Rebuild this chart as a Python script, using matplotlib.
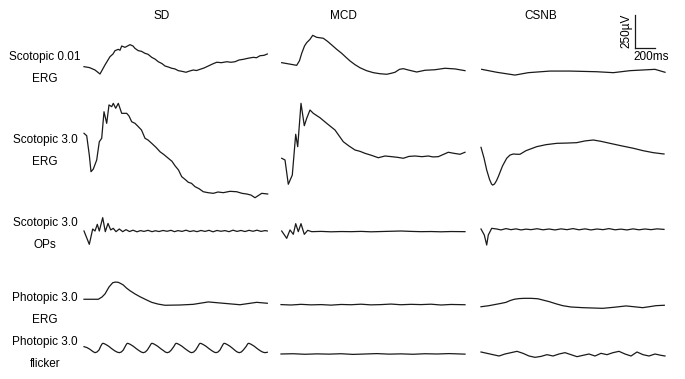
import matplotlib
matplotlib.use("Agg")
import matplotlib.pyplot as plt

# ---------------- data: (time ms, amplitude µV) ----------------
COLUMNS = ["SD", "MCD", "CSNB"]
ROW_LABELS = ["Scotopic 0.01\nERG", "Scotopic 3.0\nERG", "Scotopic 3.0\nOPs",
              "Photopic 3.0\nERG", "Photopic 3.0\nflicker"]
SCALE_UV = 250
SCALE_MS = 200

SD_SCOT001 = [(0, -5), (55, -12), (110, -30), (160, -60), (210, 8), (260, 70), (290, 90), (310, 115),
              (343, 125), (360, 118), (377, 150), (410, 140), (430, 148), (460, 160), (490, 150),
              (510, 132), (543, 115), (575, 110), (610, 95), (640, 88), (677, 65), (710, 52), (743, 32),
              (780, 18), (810, 0), (845, -8), (877, -17), (910, -22), (943, -35), (980, -40), (1020, -47),
              (1055, -38), (1093, -30), (1125, -34), (1160, -25), (1200, -15), (1243, 0), (1285, 15),
              (1327, 28), (1375, 25), (1427, 32), (1470, 28), (1510, 32), (1550, 45), (1593, 50),
              (1640, 58), (1693, 65), (1725, 62), (1760, 77), (1800, 80), (1833, 90)]
MCD_SCOT001 = [(7, 25), (157, 5), (185, 40), (207, 95), (235, 150), (257, 175), (290, 200), (317, 230),
               (357, 215), (423, 208), (465, 185), (507, 158), (557, 125), (607, 95), (650, 65), (690, 38),
               (740, 10), (790, -13), (855, -35), (923, -50), (990, -58), (1057, -62), (1100, -55),
               (1140, -47), (1185, -25), (1223, -20), (1273, -30), (1357, -45), (1440, -32), (1540, -28),
               (1640, -17), (1740, -22), (1840, -35)]
CSNB_SCOT001 = [(7, -25), (157, -47), (340, -68), (473, -50), (690, -38), (890, -38), (1157, -43),
                (1323, -50), (1490, -35), (1740, -25), (1840, -47)]

SD_SCOT30 = [(0, 125), (27, 107), (53, -38), (70, -163), (93, -143), (127, -75), (153, 62), (177, 88),
             (200, 287), (227, 200), (250, 338), (277, 325), (293, 350), (317, 313), (343, 350),
             (377, 275), (427, 275), (450, 255), (477, 212), (510, 200), (543, 175), (575, 150),
             (610, 88), (640, 75), (677, 50), (720, 20), (760, -13), (800, -35), (843, -62), (880, -85),
             (910, -118), (945, -150), (977, -200), (1010, -220), (1043, -242), (1075, -250), (1110, -275),
             (1150, -290), (1193, -313), (1240, -320), (1293, -325), (1340, -315), (1393, -320),
             (1460, -310), (1527, -313), (1580, -325), (1627, -330), (1670, -338), (1710, -358),
             (1777, -325), (1837, -330)]
MCD_SCOT30 = [(7, -62), (40, -75), (73, -257), (113, -188), (147, 118), (167, 25), (200, 350), (233, 182),
              (257, 238), (290, 300), (323, 275), (390, 242), (457, 200), (540, 150), (623, 62), (680, 30),
              (740, 0), (790, -10), (840, -25), (905, -40), (973, -58), (1040, -45), (1107, -50),
              (1165, -55), (1223, -62), (1280, -48), (1340, -45), (1410, -50), (1473, -45), (1520, -52),
              (1573, -50), (1673, -17), (1730, -25), (1790, -32), (1840, -17)]
CSNB_SCOT30 = [(0, 20), (30, -60), (57, -150), (85, -220), (105, -255), (117, -263), (135, -255),
               (155, -230), (173, -200), (215, -120), (257, -62), (290, -38), (323, -30), (360, -32),
               (390, -32), (450, -5), (557, 25), (650, 40), (757, 50), (857, 52), (957, 55), (1040, 68),
               (1123, 75), (1200, 65), (1290, 50), (1400, 32), (1523, 13), (1620, -5), (1723, -20),
               (1830, -30)]

SD_OPS = [(0, 0), (53, -100), (87, 15), (110, 0), (133, 50), (153, 0), (187, 100), (213, -5), (240, 57),
          (267, 8), (293, 20), (320, -5), (353, 15), (387, -5), (420, 10), (455, -4), (490, 6), (530, -6),
          (565, 3), (600, -3), (640, 5), (680, -5), (715, 2), (750, -4), (790, 4), (830, -2), (870, 5),
          (905, -5), (940, 3), (980, -3), (1020, 6), (1060, -4), (1095, 2), (1130, -5), (1170, 4),
          (1210, -3), (1250, 5), (1290, -6), (1330, 4), (1370, -2), (1410, 3), (1450, -5), (1490, 6),
          (1530, -3), (1570, 4), (1610, -4), (1650, 5), (1690, -2), (1730, 6), (1770, -3), (1810, 3),
          (1833, 0)]
MCD_OPS = [(7, 0), (57, -55), (90, 8), (123, -25), (147, 55), (173, -5), (200, 55), (233, -25), (267, 5),
           (307, -5), (400, -3), (500, -6), (600, -4), (700, -5), (800, -3), (900, -6), (1000, -4),
           (1100, -2), (1200, 0), (1300, -3), (1400, -5), (1500, -4), (1600, -6), (1700, -4), (1840, -5)]
CSNB_OPS = [(0, 15), (33, -30), (57, -105), (73, -30), (107, 20), (157, 15), (200, 8), (250, 18), (300, 10),
            (350, 16), (400, 8), (450, 14), (500, 10), (560, 17), (620, 9), (680, 15), (740, 8), (800, 16),
            (860, 10), (920, 18), (980, 9), (1040, 16), (1100, 8), (1160, 15), (1220, 10), (1280, 18),
            (1340, 9), (1400, 14), (1460, 8), (1520, 16), (1580, 9), (1640, 15), (1700, 10), (1760, 16),
            (1830, 12)]

SD_PHOT = [(0, 28), (143, 28), (180, 45), (210, 68), (250, 120), (287, 152), (315, 157), (343, 155),
           (370, 145), (393, 135), (425, 112), (460, 92), (510, 68), (560, 47), (620, 25), (677, 5),
           (740, -8), (810, -17), (960, -15), (1093, -10), (1243, 8), (1393, -2), (1560, -13),
           (1727, 5), (1833, -2)]
MCD_PHOT = [(0, -12), (100, -15), (200, -10), (300, -14), (400, -12), (500, -16), (600, -11), (700, -13),
            (800, -9), (900, -14), (1000, -12), (1100, -8), (1200, -13), (1300, -10), (1400, -12),
            (1500, -9), (1600, -15), (1700, -11), (1840, -13)]
CSNB_PHOT = [(0, -28), (80, -20), (150, -10), (200, -3), (250, 5), (290, 18), (333, 28), (380, 33),
             (433, 35), (500, 35), (567, 32), (620, 22), (683, 10), (750, -6), (817, -20), (900, -30),
             (1017, -35), (1217, -40), (1330, -32), (1450, -22), (1530, -28), (1617, -35), (1690, -27),
             (1750, -20), (1833, -17)]

SD_FLICK = [(0, 25), (30, 18), (60, 5), (90, -12),
            (110, -20), (130, -15), (150, 0), (167, 28), (179, 44), (187, 50), (197, 49), (217, 42),
            (247, 28), (277, 10), (307, -6), (332, -16),
            (353, -20), (373, -15), (393, 0), (413, 28), (425, 44), (433, 50), (443, 49), (463, 42),
            (493, 28), (523, 10), (553, -6), (575, -16),
            (593, -20), (613, -15), (633, 0), (657, 28), (669, 44), (677, 50), (687, 49), (707, 42),
            (737, 28), (767, 10), (797, -6), (815, -16),
            (833, -20), (853, -15), (873, 0), (900, 28), (912, 44), (920, 50), (930, 49), (950, 42),
            (980, 28), (1010, 10), (1040, -6), (1060, -16),
            (1077, -20), (1097, -15), (1117, 0), (1140, 28), (1152, 44), (1160, 50), (1170, 49),
            (1190, 42), (1220, 28), (1250, 10), (1280, -6), (1302, -16),
            (1320, -20), (1340, -15), (1360, 0), (1380, 28), (1392, 44), (1400, 50), (1410, 49),
            (1430, 42), (1460, 28), (1490, 10), (1515, -6), (1535, -16),
            (1553, -20), (1573, -15), (1593, 0), (1623, 28), (1635, 44), (1643, 50), (1653, 49),
            (1673, 42), (1703, 28), (1733, 10), (1763, -6), (1788, -16),
            (1810, -20), (1833, -17)]
MCD_FLICK = [(0, -30), (120, -28), (240, -32), (360, -29), (480, -31), (600, -28), (720, -33), (840, -30),
             (960, -27), (1080, -31), (1200, -29), (1320, -32), (1440, -28), (1560, -30), (1680, -27),
             (1840, -31)]
CSNB_FLICK = [(0, -15), (60, -25), (120, -35), (180, -45), (240, -30), (300, -20), (360, -10), (420, -25),
              (480, -45), (540, -55), (600, -48), (660, -35), (720, -45), (780, -30), (840, -20),
              (900, -35), (960, -50), (1020, -40), (1080, -30), (1140, -45), (1200, -25), (1260, -35),
              (1320, -20), (1380, -10), (1440, -30), (1500, -45), (1560, -15), (1620, -35), (1680, -45),
              (1740, -30), (1800, -40), (1840, -45)]

TRACES = [
    [SD_SCOT001, MCD_SCOT001, CSNB_SCOT001],
    [SD_SCOT30, MCD_SCOT30, CSNB_SCOT30],
    [SD_OPS, MCD_OPS, CSNB_OPS],
    [SD_PHOT, MCD_PHOT, CSNB_PHOT],
    [SD_FLICK, MCD_FLICK, CSNB_FLICK],
]

# ---------------- layout ----------------
W, H = 685, 379
MS_PER_PX = 10.0
UV_PER_PX = 7.5
col_x0_px = [84, 281, 481]
row_base_px = [66, 150, 231, 303, 350]
col_title_px = [(162, 16), (343, 16), (541, 16)]
label_px = [(45, 57, 79), (45, 140, 162), (45, 223, 245), (45, 298, 320), (45, 342, 364)]
LINE_COLOR = "#1a1a1a"
FS = 8.5

fig = plt.figure(figsize=(W / 100, H / 100), dpi=100)
ax = fig.add_axes([0, 0, 1, 1])
ax.set_xlim(0, W * MS_PER_PX)
ax.set_ylim(-H * UV_PER_PX, 0)
ax.axis("off")

for r, row in enumerate(TRACES):
    for c, trace in enumerate(row):
        t0 = col_x0_px[c] * MS_PER_PX
        v0 = -row_base_px[r] * UV_PER_PX
        xs = [t0 + t for t, v in trace]
        ys = [v0 + v for t, v in trace]
        ax.plot(xs, ys, color=LINE_COLOR, lw=0.9, solid_joinstyle="round")

def fx(px):
    return px / W

def fy(py):
    return 1 - py / H

font = dict(family=["Liberation Sans", "DejaVu Sans"], fontsize=FS, color="black")
for name, (x, y) in zip(COLUMNS, col_title_px):
    fig.text(fx(x), fy(y), name, ha="center", va="center", **font)

for lab, (x, y1, y2) in zip(ROW_LABELS, label_px):
    l1, l2 = lab.split("\n")
    fig.text(fx(x), fy(y1), l1, ha="center", va="center", **font)
    fig.text(fx(x), fy(y2), l2, ha="center", va="center", **font)

# scale bar
sb_x = 635 * MS_PER_PX
sb_y = -48 * UV_PER_PX
ax.plot([sb_x, sb_x], [sb_y, sb_y + SCALE_UV], color=LINE_COLOR, lw=0.9)
ax.plot([sb_x, sb_x + SCALE_MS], [sb_y, sb_y], color=LINE_COLOR, lw=0.9)
fig.text(fx(626), fy(31), "%dµV" % SCALE_UV, rotation=90, ha="center", va="center", **font)
fig.text(fx(651), fy(57), "%dms" % SCALE_MS, ha="center", va="center", **font)

fig.savefig("out.png", dpi=100)
